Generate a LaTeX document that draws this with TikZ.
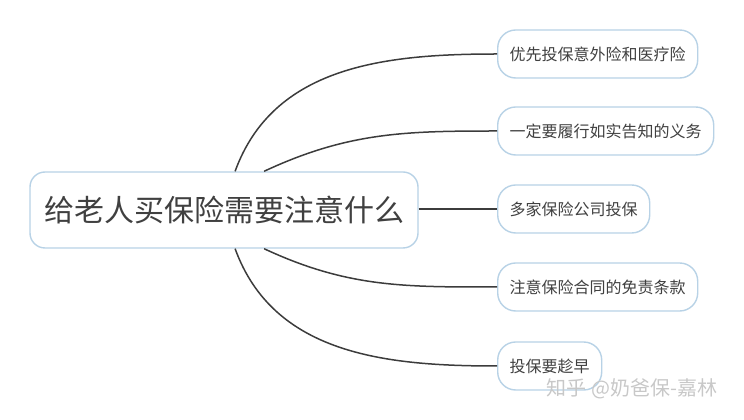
\documentclass[tikz,border=0pt]{standalone}
\usepackage{fontspec}
\setmainfont{Noto Sans CJK SC}
\definecolor{boxblue}{RGB}{184,210,230}
\definecolor{textgray}{RGB}{64,64,64}
\definecolor{linegray}{RGB}{60,60,60}
\definecolor{markgray}{RGB}{200,200,200}
\begin{document}
\begin{tikzpicture}[x=1pt,y=1pt,
    root/.style={draw=boxblue, line width=1.4pt, rounded corners=15pt, fill=white, text=textgray,
      font=\fontsize{30}{30}\selectfont, minimum height=76pt, inner xsep=14pt},
    leaf/.style={draw=boxblue, line width=1.4pt, rounded corners=18pt, fill=white, text=textgray,
      font=\fontsize{16}{16}\selectfont, minimum height=48pt, inner xsep=12pt, anchor=west},
    branch/.style={draw=linegray, line width=1.5pt}]

    \useasboundingbox (0,0) rectangle (744,420);

    \node[root] (r) at (224,210) {给老人买保险需要注意什么};
    \node[leaf] (a) at (497,366) {优先投保意外险和医疗险};
    \node[leaf] (b) at (497,289) {一定要履行如实告知的义务};
    \node[leaf] (c) at (497,211) {多家保险公司投保};
    \node[leaf] (d) at (497,133) {注意保险合同的免责条款};
    \node[leaf] (e) at (497,54) {投保要趁早};

    \draw [branch] (r.74) to [out=70, in=180] (a.west);
    \draw [branch] (r.44) to [out=25, in=180] (b.west);
    \draw [branch] (r.east |- c.west) -- (c.west);
    \draw [branch] (r.-44) to [out=-25, in=180] (d.west);
    \draw [branch] (r.-74) to [out=-70, in=180] (e.west);

    \node[text=markgray, font=\fontsize{20}{20}\selectfont] (m) at (632,31) {知乎 @奶爸保-嘉林};

\end{tikzpicture}
\end{document}
